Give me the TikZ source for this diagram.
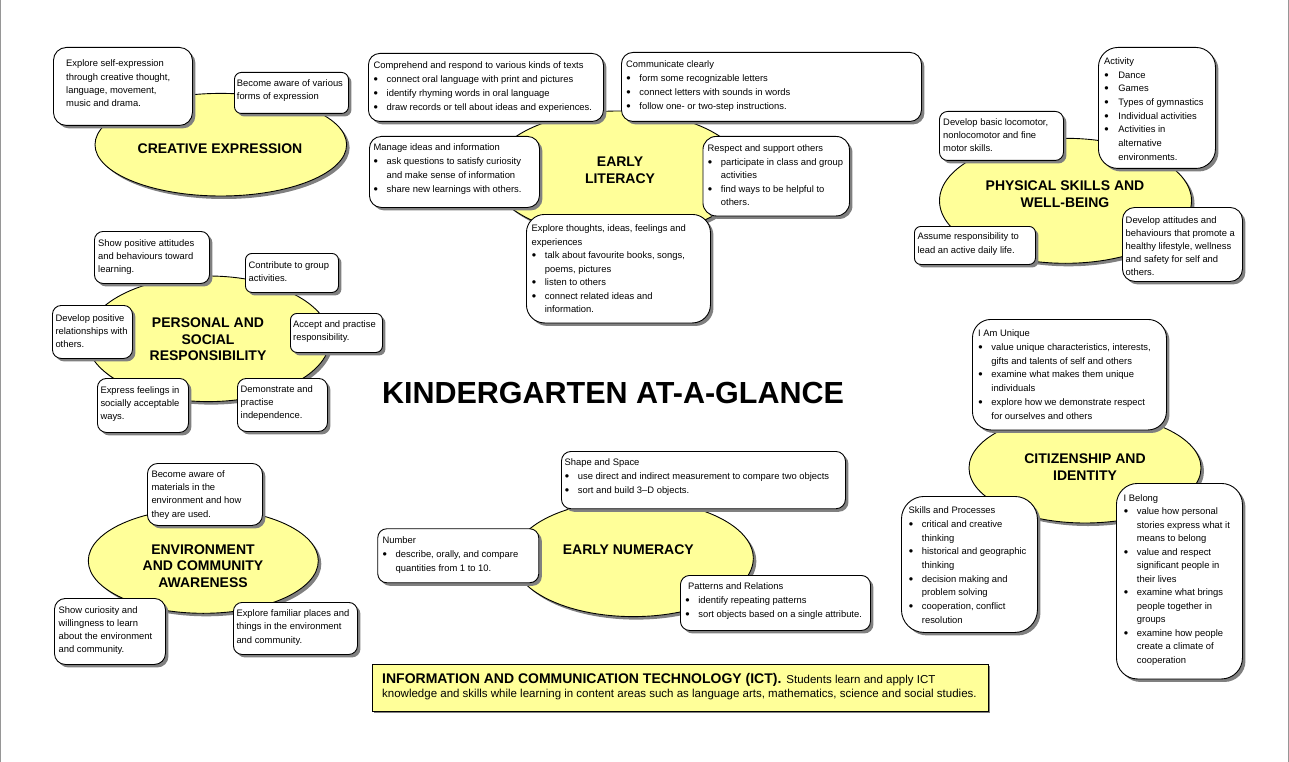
\documentclass[tikz,border=0pt]{standalone}
\usepackage{fontspec}
\setmainfont{Liberation Sans}
\usetikzlibrary{shapes.geometric,shadows}
\definecolor{ely}{RGB}{255,255,153}
\definecolor{shd}{RGB}{128,128,128}
\definecolor{edge}{RGB}{150,150,150}
\tikzset{
  rbox/.style={draw=black, line width=0.9pt, fill=white, inner sep=0pt,
     drop shadow={shadow xshift=3pt, shadow yshift=-3pt, fill=shd, opacity=1}},
  btext/.style={inner sep=0pt, align=left, anchor=north west},
  ell/.style={ellipse, draw=black, line width=0.9pt, fill=ely, inner sep=0pt,
     drop shadow={shadow xshift=3pt, shadow yshift=-3pt, fill=shd, opacity=1}},
  elabel/.style={font=\fontsize{14}{16.6}\selectfont\bfseries, align=center, inner sep=0pt},
}
\newcommand\itm{\makebox[13.2pt][l]{\hspace{0.2pt}\raisebox{-1.1pt}{\fontsize{12.5}{12.5}\selectfont\textbullet}}}
\newcommand\cnt{\hspace*{13.2pt}}
% [line spacing]{name}{x1}{y1}{x2}{y2}{text x}{first baseline y}{text}
\newcommand\bx[9][13.6]{%
  \pgfmathsetmacro\bxw{#5-#3}%
  \pgfmathsetmacro\bxh{#6-#4}%
  \pgfmathsetmacro\bxr{0.1667*min(\bxw,\bxh)}%
  \node[rbox, rounded corners=\bxr pt, minimum width=\bxw pt, minimum height=\bxh pt, anchor=north west] (#2) at (#3,#4) {};%
  \node[btext, font=\fontsize{9.4}{#1}\selectfont] (#2t) at (#7,#8-10) {\rule{0pt}{10pt}#9};%
}
\begin{document}
\begin{tikzpicture}[x=1pt,y=-1pt]
\useasboundingbox (0,0) rectangle (1289,762);
\fill[white] (0,0) rectangle (1289,762);
\draw[edge, line width=1.4pt] (0.7,0) -- (0.7,762);
\draw[edge, line width=1.4pt] (1288.2,0) -- (1288.2,762);

% ---------------- Creative expression
\node[ell, minimum width=251.6pt, minimum height=102.6pt] (ce) at (220.8,144.7) {};
\node[elabel] (cel) at (220,148.3) {CREATIVE EXPRESSION};
\bx[13.1]{ce1}{53}{47}{192}{125}{66}{66.8}{Explore self-expression\\through creative thought,\\language, movement,\\music and drama.}
\bx[13]{ce2}{234}{72}{348}{113}{236.7}{86.8}{Become aware of various\\forms of expression}

% ---------------- Early literacy
\node[ell, minimum width=254pt, minimum height=126pt] (el) at (618,174) {};
\node[elabel] (ell) at (620,170) {EARLY\\LITERACY};
\bx[14]{el1}{368}{53}{603}{121}{373.3}{68.5}{Comprehend and respond to various kinds of texts\\ \itm connect oral language with print and pictures\\ \itm identify rhyming words in oral language\\ \itm draw records or tell about ideas and experiences.}
\bx[14]{el2}{621}{52}{921}{121}{626}{67.5}{Communicate clearly\\ \itm form some recognizable letters\\ \itm connect letters with sounds in words\\ \itm follow one- or two-step instructions.}
\bx[14]{el3}{369}{136}{539}{207}{373.3}{150.2}{Manage ideas and information\\ \itm ask questions to satisfy curiosity\\ \cnt and make sense of information\\ \itm share new learnings with others.}
\bx[13.4]{el4}{702.5}{136}{849}{215.5}{707.5}{151.8}{Respect and support others\\ \itm participate in class and group\\ \cnt activities\\ \itm find ways to be helpful to\\ \cnt others.}
\bx[13.5]{el5}{526}{214}{710}{322.5}{531.5}{231.5}{Explore thoughts, ideas, feelings and\\experiences\\ \itm talk about favourite books, songs,\\ \cnt poems, pictures\\ \itm listen to others\\ \itm connect related ideas and\\ \cnt information.}

% ---------------- Physical skills
\node[ell, minimum width=252pt, minimum height=125pt] (ps) at (1065.5,200.8) {};
\node[elabel, font=\fontsize{14}{17}\selectfont\bfseries] (psl) at (1065,194) {PHYSICAL SKILLS AND\\WELL-BEING};
\bx[13]{ps1}{939}{111}{1063}{160}{943}{125.2}{Develop basic locomotor,\\nonlocomotor and fine\\motor skills.}
\bx[13.7]{ps2}{1098}{47}{1215}{168}{1104}{64.2}{Activity\\ \itm\hspace{1pt}Dance\\ \itm\hspace{1pt}Games\\ \itm\hspace{1pt}Types of gymnastics\\ \itm\hspace{1pt}Individual activities\\ \itm\hspace{1pt}Activities in\\ \cnt\hspace{1pt}alternative\\ \cnt\hspace{1pt}environments.}
\bx[13.1]{ps3}{1122}{207}{1242}{281}{1125.5}{222.8}{Develop attitudes and\\behaviours that promote a\\healthy lifestyle, wellness\\and safety for self and\\others.}
\bx[13.3]{ps4}{914}{226}{1035}{264}{917.3}{239.5}{Assume responsibility to\\lead an active daily life.}

% ---------------- Personal and social responsibility
\node[ell, minimum width=243.4pt, minimum height=125.6pt] (pr) at (208.3,338.8) {};
\node[elabel] (prl) at (208,339.5) {PERSONAL AND\\SOCIAL\\RESPONSIBILITY};
\bx[13]{pr1}{94}{231}{209}{283}{98}{245.8}{Show positive attitudes\\and behaviours toward\\learning.}
\bx[13]{pr2}{245}{253}{338}{292}{248.5}{267.8}{Contribute to group\\activities.}
\bx[13.2]{pr3}{52}{305}{132}{358}{55.3}{320.8}{Develop positive\\relationships with\\others.}
\bx[13.4]{pr4}{290}{313}{382}{352}{293}{326.8}{Accept and practise\\responsibility.}
\bx[13.3]{pr5}{97}{378}{188}{432}{100.3}{392.8}{Express feelings in\\socially acceptable\\ways.}
\bx[13.3]{pr6}{237}{378}{327}{431}{240.5}{391.8}{Demonstrate and\\practise\\independence.}

% ---------------- Title
\node[font=\fontsize{30.5}{36}\selectfont\bfseries, inner sep=0pt] (title) at (613,393) {KINDERGARTEN AT-A-GLANCE};

% ---------------- Citizenship and identity
\node[ell, minimum width=232pt, minimum height=110pt] (ci) at (1085,468) {};
\node[elabel] (cil) at (1085,467.3) {CITIZENSHIP AND\\IDENTITY};
\bx[13.8]{ci1}{972}{319}{1166}{429.5}{978}{336.2}{I Am Unique\\ \itm value unique characteristics, interests,\\ \cnt gifts and talents of self and others\\ \itm examine what makes them unique\\ \cnt individuals\\ \itm explore how we demonstrate respect\\ \cnt for ourselves and others}
\bx[13.7]{ci2}{901}{496}{1037}{632}{908.5}{513.5}{Skills and Processes\\ \itm critical and creative\\ \cnt thinking\\ \itm historical and geographic\\ \cnt thinking\\ \itm decision making and\\ \cnt problem solving\\ \itm cooperation, conflict\\ \cnt resolution}
\bx[13.5]{ci3}{1116}{483}{1242}{678.5}{1123.5}{500.8}{I Belong\\ \itm value how personal\\ \cnt stories express what it\\ \cnt means to belong\\ \itm value and respect\\ \cnt significant people in\\ \cnt their lives\\ \itm examine what brings\\ \cnt people together in\\ \cnt groups\\ \itm examine how people\\ \cnt create a climate of\\ \cnt cooperation}

% ---------------- Environment and community awareness
\node[ell, minimum width=230pt, minimum height=105pt] (ec) at (203.3,560.8) {};
\node[elabel, font=\fontsize{14}{16.3}\selectfont\bfseries] (ecl) at (203,566) {ENVIRONMENT\\AND COMMUNITY\\AWARENESS};
\bx[13.1]{ec1}{147}{463}{262}{525}{151.3}{477.5}{Become aware of\\materials in the\\environment and how\\they are used.}
\bx[13.3]{ec2}{54}{598}{165}{664}{58.5}{612.8}{Show curiosity and\\willingness to learn\\about the environment\\and community.}
\bx[13.3]{ec3}{233}{602}{357}{654}{236.3}{616.2}{Explore familiar places and\\things in the environment\\and community.}

% ---------------- Early numeracy
\node[ell, minimum width=240pt, minimum height=116.6pt] (en) at (633.3,558.3) {};
\node[elabel] (enl) at (628.3,550) {EARLY NUMERACY};
\bx[14]{en1}{561}{451}{845}{508.3}{564.5}{465.2}{Shape and Space\\ \itm use direct and indirect measurement to compare two objects\\ \itm sort and build 3--D objects.}
\bx[13.7]{en2}{377.3}{528.3}{538.3}{582.3}{382.3}{543.5}{Number\\ \itm describe, orally, and compare\\ \cnt quantities from 1 to 10.}
\bx[14]{en3}{680}{575}{870}{630}{685}{589.5}{\hspace*{3pt}Patterns and Relations\\ \itm identify repeating patterns\\ \itm sort objects based on a single attribute.}

% ---------------- ICT
\node[draw=black, line width=0.9pt, fill=ely, minimum width=616pt, minimum height=47pt, anchor=north west, inner sep=0pt,
      drop shadow={shadow xshift=1.5pt, shadow yshift=-1.5pt, fill=shd, opacity=1}] (ict) at (372,664) {};
\node[btext, font=\fontsize{11.5}{14}\selectfont] (ictt) at (382,671) {\rule{0pt}{12pt}{\fontsize{14}{14}\selectfont\bfseries INFORMATION AND COMMUNICATION TECHNOLOGY (ICT).}\hspace{5pt}Students learn and apply ICT\\knowledge and skills while learning in content areas such as language arts, mathematics, science and social studies.};
\end{tikzpicture}
\end{document}
